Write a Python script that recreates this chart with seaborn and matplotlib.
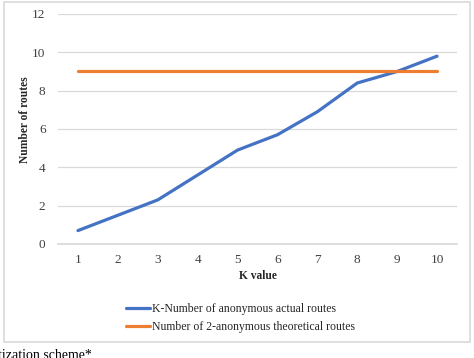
import pandas as pd
import seaborn as sns
import matplotlib.pyplot as plt
from matplotlib.patches import Rectangle

# data
k_values = [1, 2, 3, 4, 5, 6, 7, 8, 9, 10]
actual_routes = [0.7, 1.5, 2.3, 3.6, 4.9, 5.7, 6.9, 8.4, 9.0, 9.8]
theoretical_routes = [9, 9, 9, 9, 9, 9, 9, 9, 9, 9]
y_ticks = [0, 2, 4, 6, 8, 10, 12]

label_actual = 'K-Number of anonymous actual routes'
label_theory = 'Number of 2-anonymous theoretical routes'

df = pd.DataFrame({
    'k': k_values * 2,
    'routes': actual_routes + theoretical_routes,
    'series': [label_actual] * 10 + [label_theory] * 10,
})

sns.set_theme(style='white')
plt.rcParams['font.family'] = ['Liberation Serif', 'DejaVu Serif']

fig = plt.figure(figsize=(4.74, 3.58), dpi=100)
ax = fig.add_axes([58 / 474, 1 - 244 / 358, 399 / 474, 230 / 358])

sns.lineplot(data=df, x='k', y='routes', hue='series',
             palette=['#4472C4', '#ED7D31'], linewidth=2.3, ax=ax, legend=False)

ax.set_xlim(0.5, 10.5)
ax.set_ylim(0, 12)
ax.set_xticks(k_values)
ax.set_yticks(y_ticks)
ax.yaxis.grid(True, color='#d9d9d9', linewidth=0.9)
ax.set_axisbelow(True)
for s in ax.spines.values():
    s.set_visible(False)
ax.spines['bottom'].set_visible(True)
ax.spines['bottom'].set_color('#d9d9d9')
ax.tick_params(axis='both', length=0, labelsize=9.5, labelcolor='#404040')
ax.tick_params(axis='y', pad=9)
ax.tick_params(axis='x', pad=7)

ax.set_xlabel('K value', fontsize=8.3, fontweight='bold', labelpad=3)
ax.set_ylabel('Number of routes', fontsize=8.3, fontweight='bold', labelpad=1)
ax.yaxis.label.set_y(0.54)

# legend below the plot
handles = [plt.Line2D([], [], color='#4472C4', linewidth=2.3),
           plt.Line2D([], [], color='#ED7D31', linewidth=2.3)]
fig.legend(handles, [label_actual, label_theory], loc='upper left',
           bbox_to_anchor=(118 / 474, 1 - 295 / 358), frameon=False,
           fontsize=8.5, handlelength=2.05, handletextpad=0.1,
           labelspacing=0.52, borderpad=0.2)

# outer chart border
fig.patches.append(Rectangle((4 / 474, 1 - 342 / 358), 466 / 474, 340 / 358,
                             transform=fig.transFigure, fill=False,
                             edgecolor='#d9d9d9', linewidth=1.2))

fig.text(-0.005, -0.012, 'tization scheme*', fontsize=10, color='black',
         ha='left', va='bottom')

fig.savefig('out.png', dpi=100)
